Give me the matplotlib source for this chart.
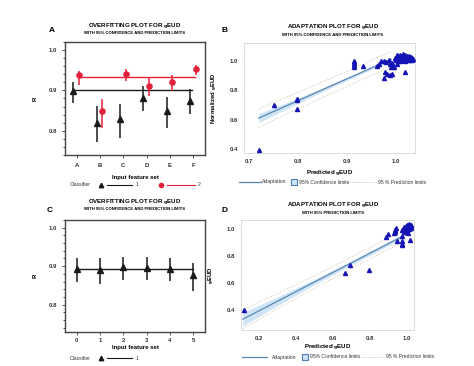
import matplotlib
matplotlib.use('Agg')
import matplotlib.pyplot as plt
from matplotlib.lines import Line2D
from matplotlib.patches import Rectangle
import numpy as np

plt.rcParams['font.family'] = ['Liberation Sans', 'DejaVu Sans']
plt.rcParams['font.weight'] = 'bold'
plt.rcParams['mathtext.default'] = 'bf'

# ---- panel A: overfitting plot, two classifiers ----
feat_A = ['A', 'B', 'C', 'D', 'E', 'F']
r1_A = [0.898, 0.820, 0.829, 0.881, 0.849, 0.875]
r1_A_lo = [0.868, 0.771, 0.783, 0.849, 0.808, 0.841]
r1_A_hi = [0.922, 0.861, 0.866, 0.910, 0.883, 0.904]
r2_A = [0.937, 0.849, 0.941, 0.912, 0.920, 0.953]
r2_A_lo = [0.914, 0.807, 0.924, 0.885, 0.898, 0.939]
r2_A_hi = [0.949, 0.880, 0.954, 0.932, 0.937, 0.963]
mean1_A = 0.900
mean2_A = 0.934

# ---- panel C: overfitting plot, one classifier ----
feat_C = ['0', '1', '2', '3', '4', '5']
r_C = [0.893, 0.890, 0.897, 0.895, 0.893, 0.876]
r_C_lo = [0.859, 0.855, 0.865, 0.863, 0.862, 0.836]
r_C_hi = [0.922, 0.921, 0.925, 0.925, 0.922, 0.907]
mean_C = 0.893

# ---- panel B: adaptation plot ----
pred_B = [0.721, 0.752, 0.798, 0.798, 0.798, 0.914, 0.914, 0.915, 0.915, 0.932,
          0.961, 0.965, 0.970, 0.975, 0.977, 0.981, 0.988, 0.992, 1.018,
          0.975, 0.980, 0.985, 0.987, 0.990, 0.993, 0.995, 0.996, 1.003,
          0.998, 1.000, 1.002, 1.004, 1.005, 1.007, 1.008, 1.010, 1.011, 1.012,
          1.013, 1.015, 1.016, 1.017, 1.018, 1.019, 1.020, 1.021, 1.022, 1.023,
          1.024, 1.025, 1.026, 1.027, 1.028, 1.029, 1.030, 1.031, 1.032, 1.033,
          1.035, 1.003, 1.009, 1.014, 1.006, 1.001]
obs_B = [0.395, 0.697, 0.742, 0.732, 0.673, 0.996, 0.985, 0.968, 0.955, 0.966,
         0.966, 0.978, 0.996, 0.882, 0.923, 0.912, 0.905, 0.910, 0.923,
         1.000, 0.990, 1.002, 0.975, 0.960, 0.985, 0.970, 0.955, 0.978,
         1.015, 1.005, 1.022, 1.000, 1.030, 1.013, 0.995, 1.025, 1.007, 1.035,
         1.018, 1.002, 1.028, 1.012, 1.038, 0.998, 1.020, 1.008, 1.030, 1.015,
         1.003, 1.025, 1.010, 1.032, 1.018, 1.005, 1.022, 1.012, 1.006, 1.016,
         1.008, 1.037, 1.040, 1.042, 1.020, 1.011]
fit_x_B = [0.72, 0.80, 0.88, 0.95, 0.99]
fit_y_B = [0.610, 0.728, 0.847, 0.950, 1.010]
conf_hw_B = [0.030, 0.018, 0.011, 0.009, 0.010]
pred_hw_B = [0.062, 0.056, 0.052, 0.051, 0.052]

# ---- panel D: adaptation plot ----
pred_D = [0.117, 0.663, 0.690, 0.798,
          0.888, 0.900, 0.930, 0.935, 0.940, 0.938, 0.945, 0.975, 0.975, 0.976, 0.974, 1.020,
          0.975, 0.980, 0.985, 0.988, 0.990, 0.993, 0.995, 0.997, 1.000, 1.002,
          1.004, 1.006, 1.008, 1.010, 1.012, 1.013, 1.015, 1.016, 1.018, 1.020,
          1.021, 1.023, 1.025, 0.998, 1.005]
obs_D = [0.396, 0.672, 0.733, 0.692,
         0.939, 0.963, 0.970, 0.988, 1.005, 0.978, 0.907, 0.946, 0.907, 0.889, 0.877, 0.914,
         0.990, 1.000, 0.980, 1.010, 0.995, 0.972, 1.018, 1.003, 1.025, 0.990,
         1.013, 1.030, 1.000, 1.020, 1.036, 1.007, 0.995, 1.025, 1.013, 1.003,
         1.030, 1.018, 1.008, 0.978, 0.965]
fit_x_D = [0.11, 0.30, 0.50, 0.70, 0.97]
fit_y_D = [0.330, 0.464, 0.606, 0.747, 0.938]
conf_hw_D = [0.050, 0.032, 0.020, 0.016, 0.016]
pred_hw_D = [0.070, 0.056, 0.046, 0.043, 0.043]

W, H = 474, 366
fig = plt.figure(figsize=(W / 100, H / 100), dpi=100)


def rect(x0, y0, x1, y1):
    return [x0 / W, 1 - y1 / H, (x1 - x0) / W, (y1 - y0) / H]


def ftext(x, y, s, **kw):
    fig.text(x / W, 1 - y / H, s, **kw)


def fline(x0, x1, y, **kw):
    fig.add_artist(Line2D([x0 / W, x1 / W], [1 - y / H, 1 - y / H], **kw))


def fmark(x, y, **kw):
    fig.add_artist(Line2D([x / W], [1 - y / H], linestyle='none', **kw))


BLK = '#1a1a1a'
RED = '#e3203a'
BLUE = '#1414b4'
FIT = '#5b87b3'
BAND = '#cfe5f6'
PRED = '#cfc7a6'


def overfit_axes(ax, labels, ylim, xpad, lpad):
    ax.set_xlim(-0.5, 5.5)
    ax.set_ylim(*ylim)
    ax.set_xticks(range(6))
    ax.set_xticklabels(labels)
    ax.set_yticks([0.8, 0.9, 1.0])
    ax.set_yticklabels(['0.8', '0.9', '1.0'])
    ax.set_yticks(np.arange(0.74, 1.02, 0.02), minor=True)
    ax.tick_params(axis='both', labelsize=4.3, length=2.5, width=0.6, pad=3, colors='#333333')
    ax.tick_params(axis='x', pad=xpad)
    ax.tick_params(axis='y', which='minor', length=1.5, width=0.5)
    ax.tick_params(axis='x', which='minor', length=0)
    for s in ax.spines.values():
        s.set_color('#444444')
        s.set_linewidth(1.0)
    ax.set_xlabel('Input feature set', fontsize=4.3, fontweight='bold', labelpad=lpad)
    ax.set_ylabel('R', fontsize=4.3, fontweight='bold', labelpad=8)


def adapt_axes(ax, xlim, ylim, xticks, yticks, lpad):
    ax.set_xlim(*xlim)
    ax.set_ylim(*ylim)
    ax.set_xticks(xticks)
    ax.set_xticklabels(['%.1f' % v for v in xticks])
    ax.set_yticks(yticks)
    ax.set_yticklabels(['%.1f' % v for v in yticks])
    ax.tick_params(axis='both', labelsize=4.3, length=1.5, width=0.4, pad=2.5,
                   colors='#d8d8d8', labelcolor='#333333')
    for s in ax.spines.values():
        s.set_color('#dcdcdc')
        s.set_linewidth(0.7)
    ax.set_xlabel('Predicted $_g$EUD', fontsize=4.4, fontweight='bold', labelpad=lpad)


# ---------- A ----------
axA = fig.add_axes(rect(65, 42, 205, 155))
xA = np.arange(len(feat_A))
axA.plot([xA[0] - 0.15, xA[-1] - 0.05], [mean1_A, mean1_A], color=BLK, lw=1.0, zorder=2)
axA.plot([xA[0] + 0.05, xA[-1] + 0.05], [mean2_A, mean2_A], color=RED, lw=1.0, zorder=2)
axA.vlines(xA - 0.15, r1_A_lo, r1_A_hi, color=BLK, lw=1.1, zorder=3)
axA.vlines(xA + 0.1, r2_A_lo, r2_A_hi, color=RED, lw=1.1, zorder=3)
axA.plot(xA - 0.15, r1_A, '^', color=BLK, ms=3.8, zorder=4)
axA.plot(xA + 0.1, r2_A, 'o', color=RED, ms=3.7, zorder=4)
overfit_axes(axA, feat_A, (0.74, 1.015), 3, 5)

# ---------- C ----------
axC = fig.add_axes(rect(65, 220, 205, 332))
xC = np.arange(len(feat_C))
axC.plot([xC[0], xC[-1]], [mean_C, mean_C], color=BLK, lw=1.0, zorder=2)
axC.vlines(xC, r_C_lo, r_C_hi, color=BLK, lw=1.1, zorder=3)
axC.plot(xC, r_C, '^', color=BLK, ms=3.8, zorder=4)
overfit_axes(axC, feat_C, (0.729, 1.01), 1.5, 1.5)

# ---------- B ----------
axB = fig.add_axes(rect(244, 43, 415, 153))
fxB = np.array(fit_x_B)
fyB = np.array(fit_y_B)
axB.fill_between(fxB, fyB - np.array(conf_hw_B), fyB + np.array(conf_hw_B),
                 color=BAND, lw=0, zorder=1)
axB.plot(fxB, fyB - np.array(pred_hw_B), ':', color=PRED, lw=0.7, zorder=1)
axB.plot(fxB, fyB + np.array(pred_hw_B), ':', color=PRED, lw=0.7, zorder=1)
axB.plot(fxB, fyB, color=FIT, lw=0.9, zorder=2)
axB.plot(pred_B, obs_B, '^', color=BLUE, ms=2.9, mec=BLUE, zorder=3)
adapt_axes(axB, (0.69, 1.039), (0.373, 1.12), [0.7, 0.8, 0.9, 1.0], [0.4, 0.6, 0.8, 1.0], 4)
axB.set_ylabel('Normalized $_g$EUD', fontsize=4.3, fontweight='bold', labelpad=7)

# ---------- D ----------
axD = fig.add_axes(rect(241, 220, 414, 330))
fxD = np.array(fit_x_D)
fyD = np.array(fit_y_D)
axD.fill_between(fxD, fyD - np.array(conf_hw_D), fyD + np.array(conf_hw_D),
                 color=BAND, lw=0, zorder=1)
axD.plot(fxD, fyD - np.array(pred_hw_D), ':', color=PRED, lw=0.7, zorder=1)
axD.plot(fxD, fyD + np.array(pred_hw_D), ':', color=PRED, lw=0.7, zorder=1)
axD.plot(fxD, fyD, color=FIT, lw=0.9, zorder=2)
axD.plot(pred_D, obs_D, '^', color=BLUE, ms=2.9, mec=BLUE, zorder=3)
adapt_axes(axD, (0.1, 1.04), (0.25, 1.064), [0.2, 0.4, 0.6, 0.8, 1.0], [0.4, 0.6, 0.8, 1.0], 1.5)
axD.set_ylabel('$_g$EUD', fontsize=4.3, fontweight='bold', labelpad=7)

# ---------- titles and panel letters ----------
for cx, ty, main, sub in [
        (135, 27, 'OVERFITTING PLOT FOR $_g$EUD', 'WITH 95% CONFIDENCE AND PREDICTION LIMITS'),
        (333, 28, 'ADAPTATION PLOT FOR $_g$EUD', 'WITH 95% CONFIDENCE AND PREDICTION LIMITS'),
        (135, 203, 'OVERFITTING PLOT FOR $_g$EUD', 'WITH 95% CONFIDENCE AND PREDICTION LIMITS'),
        (333, 206, 'ADAPTATION PLOT FOR $_g$EUD', 'WITH 95% PREDICTION LIMITS')]:
    ftext(cx, ty, main, ha='center', va='center', fontsize=4.4, fontweight='bold')
    ftext(cx, ty + 6.5, sub, ha='center', va='center', fontsize=3.1, fontweight='bold')

for x, y, s in [(52, 30, 'A'), (225, 30, 'B'), (50, 210, 'C'), (224, 210, 'D')]:
    ftext(x, y, s, ha='center', va='center', fontsize=6, fontweight='bold')

# ---------- legends ----------
lg = dict(ha='left', va='center', fontsize=3.6, fontweight='normal', color='#333333')
# A legend
ftext(70, 185, 'Classifier', **lg)
fmark(101, 185, marker='^', color=BLK, ms=3.2)
fline(107, 132, 185, color=BLK, lw=0.8)
ftext(136, 185, '1', **lg)
fmark(161, 185, marker='o', color=RED, ms=3)
fline(167, 195, 185, color=RED, lw=0.8)
ftext(198, 185, '2', **lg)
# C legend
ftext(70, 358, 'Classifier', **lg)
fmark(101, 358, marker='^', color=BLK, ms=3.2)
fline(107, 132, 358, color=BLK, lw=0.8)
ftext(136, 358, '1', **lg)


def adapt_legend(y, x_line, x_txt1, x_box, x_dot):
    fline(x_line[0], x_line[1], y, color=FIT, lw=0.9)
    ftext(x_txt1, y, 'Adaptation', **lg)
    fig.add_artist(Rectangle(((x_box - 3) / W, 1 - (y + 3) / H), 6 / W, 6 / H,
                             facecolor=BAND, edgecolor='#4a7fb0', lw=0.8))
    ftext(x_box + 5, y, '95% Confidence limits', **lg)
    fline(x_dot[0], x_dot[1], y, color='#b0b0b0', lw=0.6, linestyle=':')
    ftext(x_dot[1] + 2, y, '95 % Prediction limits', **lg)


adapt_legend(182, (239, 261), 262, 294, (347, 376))
adapt_legend(357, (242, 267), 272, 305, (361, 384))

fig.savefig('out.png', dpi=100)
